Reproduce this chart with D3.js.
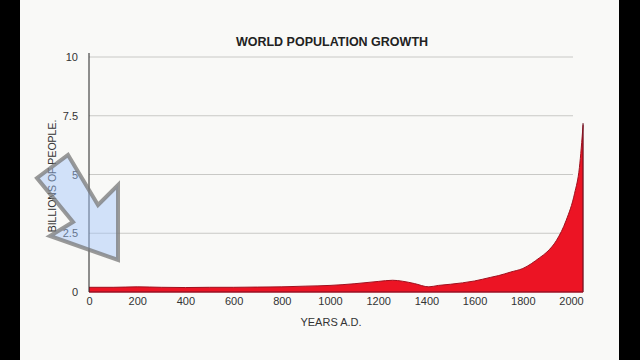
<!DOCTYPE html>
<html><head><meta charset="utf-8">
<script src="https://cdn.jsdelivr.net/npm/d3@7"></script>
<style>
html,body{margin:0;padding:0;background:#000;}
svg{display:block;}
text{font-family:"Liberation Sans",Arial,Helvetica,sans-serif;}
</style></head><body>
<svg id="c" width="640" height="360"></svg>
<script>
const title = "WORLD POPULATION GROWTH";
const xLabel = "YEARS A.D.";
const yLabel = "BILLIONS OF PEOPLE.";
const years = [0,100,200,300,400,500,600,700,800,900,1000,1100,1200,1260,1300,1350,1410,1450,1500,1600,1665,1700,1750,1800,1870,1900,1940,1980,2015,2035,2050];
const population = [0.2,0.2,0.22,0.2,0.19,0.2,0.2,0.21,0.22,0.25,0.28,0.35,0.45,0.5,0.46,0.36,0.22,0.28,0.33,0.47,0.62,0.7,0.85,1.0,1.46,1.7,2.2,3.05,4.2,5.3,7.1];
const xTicks = [0,200,400,600,800,1000,1200,1400,1600,1800,2000];
const yTicks = [0,2.5,5,7.5,10];
const yTickLabels = ["0","2.5","5","7.5","10"];

const svg = d3.select("#c");
svg.append("rect").attr("x",0).attr("y",0).attr("width",640).attr("height",360).attr("fill","#000");
svg.append("rect").attr("x",20).attr("y",0).attr("width",599).attr("height",360).attr("fill","#f9f9f7");

const x = d3.scaleLinear().domain([0,2000]).range([89,571]);
const y = d3.scaleLinear().domain([0,10]).range([292,57]);

// gridlines
svg.append("g").selectAll("line").data(yTicks.filter(d=>d>0)).join("line")
  .attr("x1",x(0)).attr("x2",573).attr("y1",d=>y(d)).attr("y2",d=>y(d))
  .attr("stroke","#c9c9c6").attr("stroke-width",1);

// y tick labels
const yAxis = d3.axisLeft(y).tickValues(yTicks).tickFormat((d,i)=>yTickLabels[i]).tickSize(0).tickPadding(11);
const gy = svg.append("g").attr("transform",`translate(${x(0)},0)`).call(yAxis);
gy.select(".domain").remove();
gy.selectAll("text").attr("font-size",11).attr("fill","#333").attr("font-family","Liberation Sans, Arial, sans-serif");

// x tick labels
const xAxis = d3.axisBottom(x).tickValues(xTicks).tickFormat(d3.format("d")).tickSize(0).tickPadding(5);
const gx = svg.append("g").attr("transform",`translate(0,${y(0)})`).call(xAxis);
gx.select(".domain").remove();
gx.selectAll("text").attr("font-size",11).attr("fill","#333").attr("font-family","Liberation Sans, Arial, sans-serif");

// area
const data = years.map((yr,i)=>({yr, v:population[i]}));
const area = d3.area().x(d=>x(d.yr)).y0(y(0)).y1(d=>y(d.v)).curve(d3.curveMonotoneX);
svg.append("path").datum(data).attr("d",area).attr("fill","#ec1424");
const line = d3.line().x(d=>x(d.yr)).y(d=>y(d.v)).curve(d3.curveMonotoneX);
svg.append("path").datum(data).attr("d",line).attr("fill","none").attr("stroke","#a0101e").attr("stroke-width",1);
const last = data[data.length-1];
svg.append("line").attr("x1",x(last.yr)).attr("x2",x(last.yr)).attr("y1",y(last.v)-2).attr("y2",y(0))
  .attr("stroke","#6a1020").attr("stroke-width",1.2);
svg.append("line").attr("x1",x(0)).attr("x2",x(last.yr)).attr("y1",y(0)).attr("y2",y(0))
  .attr("stroke","#9a1024").attr("stroke-width",1.5);

// y axis line
svg.append("line").attr("x1",x(0)).attr("x2",x(0)).attr("y1",53).attr("y2",y(0))
  .attr("stroke","#222").attr("stroke-width",1);

// title & labels
svg.append("text").attr("x",332).attr("y",46).attr("text-anchor","middle")
  .attr("font-size",12.5).attr("font-weight","bold").attr("fill","#222").text(title);
svg.append("text").attr("x",331).attr("y",326).attr("text-anchor","middle")
  .attr("font-size",11).attr("fill","#333").text(xLabel);
svg.append("text").attr("transform","translate(56,176) rotate(-90)").attr("text-anchor","middle")
  .attr("font-size",10.5).attr("fill","#333").text(yLabel);

// overlay arrow annotation (translucent)
const arrowPts = [[37,178],[68,155],[98,205],[118,185],[118,260],[50,236],[73,222]];
svg.append("polygon").attr("points",arrowPts.map(p=>p.join(",")).join(" "))
  .attr("fill","rgba(160,195,250,0.45)").attr("stroke","rgba(120,120,120,0.75)")
  .attr("stroke-width",4).attr("stroke-linejoin","miter");
</script>
</body></html>
